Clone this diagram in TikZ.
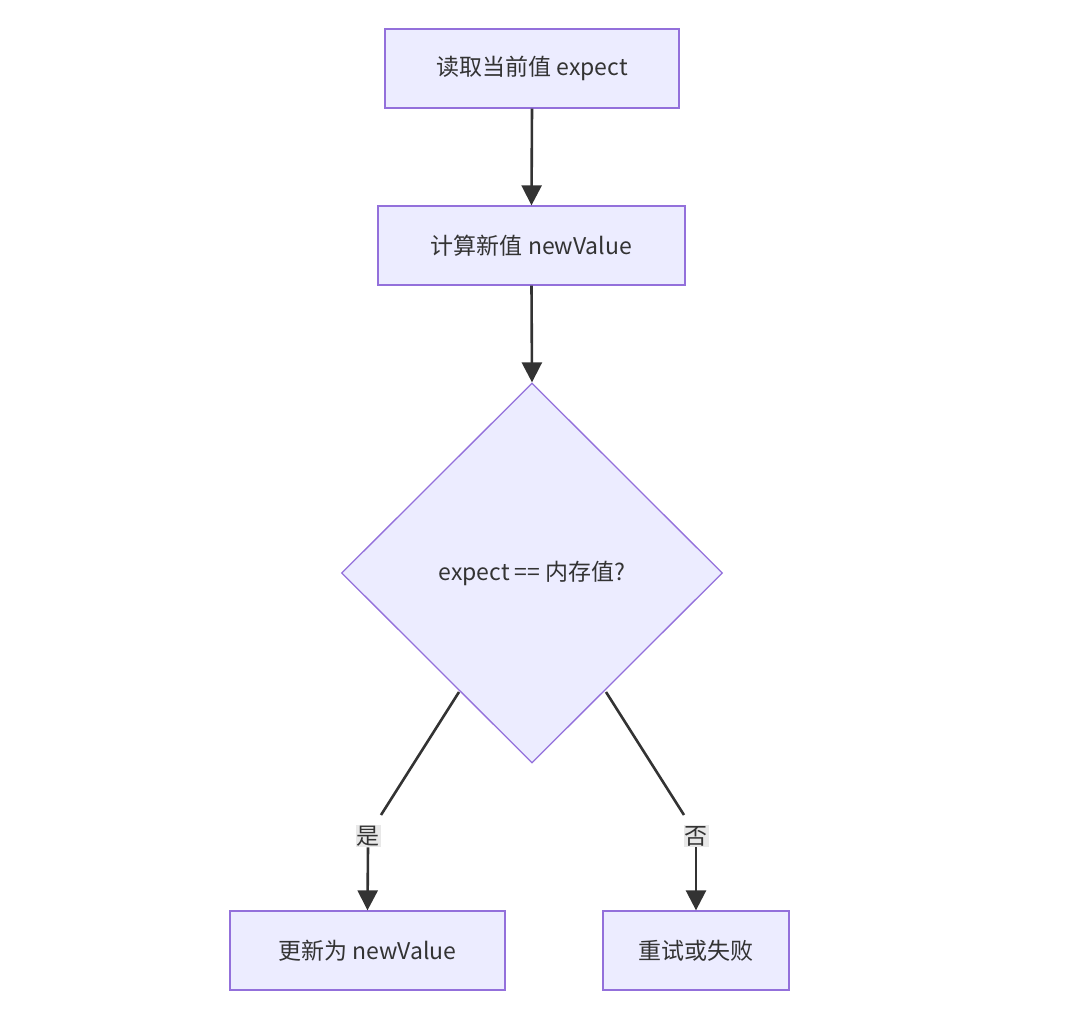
\documentclass[tikz,border=0pt]{standalone}
\usepackage{fontspec}
\setmainfont{Noto Sans CJK SC}
\usetikzlibrary{shapes.geometric,arrows.meta}
\definecolor{nf}{HTML}{ECECFF}
\definecolor{ns}{HTML}{9370DB}
\definecolor{ln}{HTML}{333333}
\definecolor{lb}{HTML}{E8E8E8}
\begin{document}
\begin{tikzpicture}[x=1pt,y=-1pt,
  box/.style={draw=ns,fill=nf,line width=1.3pt,minimum height=79pt,inner sep=0pt,font=\fontsize{23}{28}\selectfont,text=ln},
  dia/.style={draw=ns,fill=nf,line width=1.3pt,diamond,minimum width=381pt,minimum height=380pt,inner sep=0pt,font=\fontsize{23}{28}\selectfont,text=ln},
  lab/.style={fill=lb,inner sep=1pt,font=\fontsize{23}{28}\selectfont,text=ln},
  edge/.style={draw=ln,line width=2.6pt,-{Triangle[length=20pt,width=20pt]}}]
\useasboundingbox (0,0) rectangle (1080,1027);
\node[box,minimum width=294pt] (a) at (532,68.5) {读取当前值 expect};
\node[box,minimum width=307pt] (b) at (531.5,245.5) {计算新值 newValue};
\node[dia] (d) at (532,573) {expect == 内存值?};
\node[box,minimum width=275pt] (c) at (367.5,950.5) {更新为 newValue};
\node[box,minimum width=186pt] (e) at (696,950.5) {重试或失败};
\node[lab] (ly) at (368,836) {是};
\node[lab] (ln) at (696,836) {否};
\draw[edge] (a.south) -- (b.north);
\draw[edge] (b.south) -- (d.north);
\coordinate (p1) at (459,692);
\coordinate (p2) at (606,692);
\draw[draw=ln,line width=2.6pt] (p1) -- (381,815);
\draw[draw=ln,line width=2.6pt] (p2) -- (684,815);
\draw[edge] (ly.south) -- (c.north);
\draw[edge] (ln.south) -- (e.north);
\end{tikzpicture}
\end{document}
